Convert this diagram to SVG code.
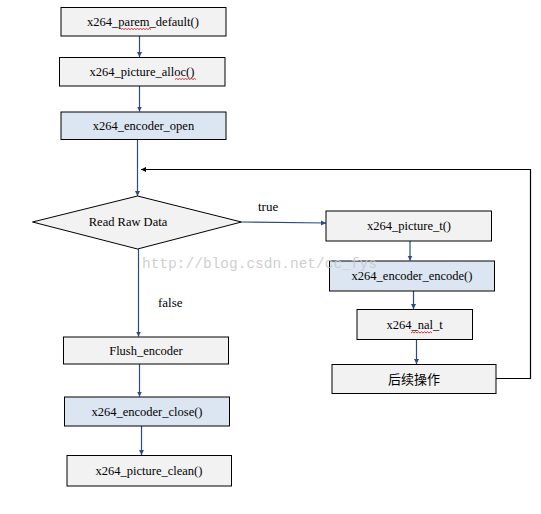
<svg xmlns="http://www.w3.org/2000/svg" width="541" height="514" viewBox="0 0 541 514">
<style>
.box{fill:#f2f2f2;stroke:#000;stroke-width:1}
.blue{fill:#dce6f2;stroke:#000;stroke-width:1}
.t{font-family:"Liberation Serif","Times New Roman",serif;font-size:12.5px;fill:#000;text-anchor:middle}
.cjk{font-family:"Liberation Serif","Noto Sans CJK SC",serif;font-size:13px;fill:#000;text-anchor:middle}
.lbl{font-family:"Liberation Serif","Times New Roman",serif;font-size:13px;fill:#000}
.c{fill:none;stroke:#2f4a7e;stroke-width:1.2}
.k{fill:none;stroke:#000;stroke-width:1.2}
.sq{fill:none;stroke:#e00000;stroke-width:0.8}
.wm{font-family:"Liberation Mono","DejaVu Sans Mono",monospace;font-size:14.5px;fill:#c8c8c8;opacity:0.85}
</style>
<defs>
<marker id="ab" markerWidth="6" markerHeight="6" refX="5" refY="3" orient="auto" markerUnits="userSpaceOnUse">
<path d="M0,0.5 L5,3 L0,5.5 Z" fill="#2f4a7e"/>
</marker>
<marker id="ak" markerWidth="6" markerHeight="6" refX="5" refY="3" orient="auto" markerUnits="userSpaceOnUse">
<path d="M0,0.5 L5,3 L0,5.5 Z" fill="#000"/>
</marker>
</defs>
<g id="connectors">
<line class="c" x1="139.5" y1="36" x2="139.5" y2="57" marker-end="url(#ab)"/>
<line class="c" x1="139.5" y1="86" x2="139.5" y2="111.5" marker-end="url(#ab)"/>
<line class="c" x1="137.5" y1="140" x2="137.5" y2="196" marker-end="url(#ab)"/>
<polyline class="k" points="496,378.5 530.5,378.5 530.5,169.5 141,169.5" marker-end="url(#ak)"/>
<line class="c" x1="241.5" y1="222" x2="326" y2="223" marker-end="url(#ab)"/>
<line class="c" x1="138.5" y1="249" x2="138.5" y2="336.5" marker-end="url(#ab)"/>
<line class="c" x1="139.5" y1="364" x2="139.5" y2="396.5" marker-end="url(#ab)"/>
<line class="c" x1="141.5" y1="426" x2="141.5" y2="455" marker-end="url(#ab)"/>
<line class="c" x1="410" y1="241" x2="410" y2="260.5" marker-end="url(#ab)"/>
<line class="c" x1="413.5" y1="291" x2="413.5" y2="309" marker-end="url(#ab)"/>
<line class="c" x1="416.5" y1="339.5" x2="416.5" y2="364" marker-end="url(#ab)"/>
<text class="lbl" x="258" y="211">true</text>
<text class="lbl" x="158" y="307">false</text>
</g>
<g id="n1">
<rect class="box" x="61" y="7.5" width="165" height="28.5"/>
<text class="t" x="143" y="26">x264_parem_default()</text>
<path class="sq" d="M121,29.5 l1.5,-1 l1.5,1 l1.5,-1 l1.5,1 l1.5,-1 l1.5,1 l1.5,-1 l1.5,1 l1.5,-1 l1.5,1 l1.5,-1 l1.5,1 l1.5,-1 l1.5,1 l1.5,-1 l1.5,1 l1.5,-1 l1.5,1 l1.5,-1 l1.5,1"/>
</g>
<g id="n2">
<rect class="box" x="59.5" y="57.5" width="165.5" height="28.5"/>
<text class="t" x="142" y="76">x264_picture_alloc()</text>
<path class="sq" d="M175,79.5 l1.5,-1 l1.5,1 l1.5,-1 l1.5,1 l1.5,-1 l1.5,1 l1.5,-1 l1.5,1 l1.5,-1 l1.5,1 l1.5,-1 l1.5,1 l1.5,-1 l1.5,1"/>
</g>
<g id="n3">
<rect class="blue" x="61" y="112" width="165" height="27.5"/>
<text class="t" x="143.5" y="130">x264_encoder_open</text>
</g>
<g id="n4">
<polygon class="box" points="32.5,222 137.5,196 241.5,222 137.5,249"/>
<text class="t" x="128" y="226">Read Raw Data</text>
</g>
<g id="n5">
<rect class="box" x="326" y="211" width="165.5" height="30"/>
<text class="t" x="409" y="230">x264_picture_t()</text>
</g>
<g id="n6">
<rect class="blue" x="329.5" y="261" width="165" height="30"/>
<text class="t" x="412" y="280">x264_encoder_encode()</text>
</g>
<g id="n7">
<rect class="box" x="357" y="309.5" width="115.5" height="30"/>
<text class="t" x="414.5" y="329">x264_nal_t</text>
<path class="sq" d="M411,333 l1.5,-1.2 l1.5,1.2 l1.5,-1.2 l1.5,1.2 l1.5,-1.2 l1.5,1.2 l1.5,-1.2 l1.5,1.2 l1.5,-1.2 l1.5,1.2 l1.5,-1.2 l1.5,1.2 l1.5,-1.2 l1.5,1.2"/>
</g>
<g id="n8">
<rect class="box" x="332" y="364.5" width="164" height="29"/>
<text class="cjk" x="414" y="384">后续操作</text>
</g>
<g id="n9">
<rect class="box" x="63.5" y="337" width="165" height="27"/>
<text class="t" x="146" y="355">Flush_encoder</text>
</g>
<g id="n10">
<rect class="blue" x="64.5" y="397" width="165" height="29"/>
<text class="t" x="147" y="416">x264_encoder_close()</text>
</g>
<g id="n11">
<rect class="box" x="67" y="455.5" width="164.5" height="30.5"/>
<text class="t" x="149" y="475">x264_picture_clean()</text>
</g>
<text class="wm" x="142" y="268">http://blog.csdn.net/cc_fys</text>
</svg>
